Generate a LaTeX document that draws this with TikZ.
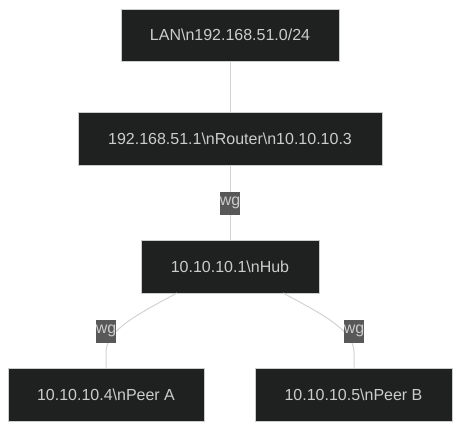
\documentclass[tikz,border=0pt]{standalone}
\usepackage{fontspec}
\setmainfont{Liberation Sans}
\definecolor{boxfill}{HTML}{1F2020}
\definecolor{boxline}{HTML}{CCCCCC}
\definecolor{txt}{HTML}{CCCCCC}
\definecolor{edge}{HTML}{D3D3D3}
\definecolor{lblbg}{HTML}{585858}
\begin{document}
\begin{tikzpicture}[x=0.75pt,y=-0.75pt,
  box/.style={draw=boxline, line width=0.75pt, fill=boxfill, text=txt, font=\fontsize{12}{14}\selectfont, inner sep=0pt, minimum height=53*0.75pt},
  lbl/.style={fill=lblbg, text=txt, font=\fontsize{12}{14}\selectfont, inner sep=0pt, minimum width=20*0.75pt, minimum height=23*0.75pt},
  conn/.style={draw=edge, line width=0.75pt}]
\useasboundingbox[fill=white] (0,0) rectangle (461,430);
\node[box, minimum width=218*0.75pt, minimum height=52*0.75pt] (lan) at (230,35) {LAN\textbackslash n192.168.51.0/24};
\node[box, minimum width=304*0.75pt] (router) at (230,138.5) {192.168.51.1\textbackslash nRouter\textbackslash n10.10.10.3};
\node[box, minimum width=178*0.75pt] (hub) at (230,266.5) {10.10.10.1\textbackslash nHub};
\node[box, minimum width=196*0.75pt] (pa) at (106,394.5) {10.10.10.4\textbackslash nPeer A};
\node[box, minimum width=197*0.75pt] (pb) at (353.5,394.5) {10.10.10.5\textbackslash nPeer B};
\draw[conn] (lan.south) -- (router.north);
\draw[conn] (router.south) -- (hub.north);
\coordinate (hl) at (177,293);
\coordinate (hr) at (283,293);
\draw[conn] (hl) .. controls (140,313) and (106,330) .. (106,352) -- (pa.north);
\draw[conn] (hr) .. controls (320,313) and (354,330) .. (354,352) -- (pb.north -| 354,0);
\node[lbl] (w1) at (230,203) {wg};
\node[lbl] (w2) at (106,331) {wg};
\node[lbl] (w3) at (354,331) {wg};
\end{tikzpicture}
\end{document}
